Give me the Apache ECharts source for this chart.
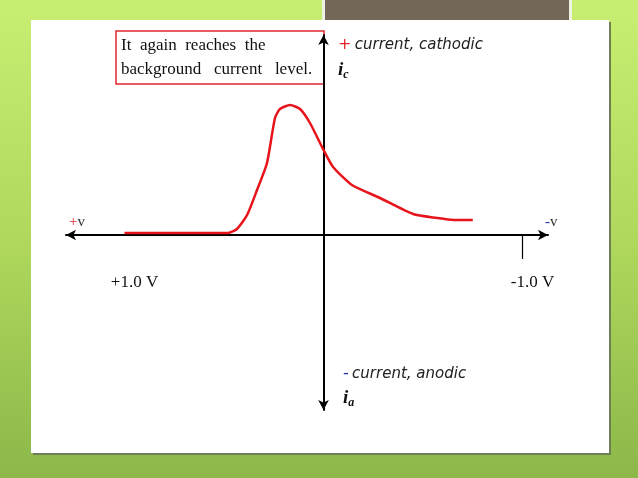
<!DOCTYPE html>
<html><head><meta charset="utf-8">
<script src="https://cdn.jsdelivr.net/npm/echarts@6/dist/echarts.min.js"></script>
<style>html,body{margin:0;padding:0;}#c{width:638px;height:478px;}</style>
</head><body><div id="c"></div>
<script>
// potential (V), plotted with + on the left
const potential = [1.0, 0.48, 0.435, 0.384, 0.334, 0.284, 0.244, 0.219, 0.168, 0.118, 0.068, 0.0, -0.048, -0.143, -0.284, -0.45, -0.57, -0.653, -0.75];
// current (arbitrary units, cathodic positive)
const current = [0.2, 0.2, 0.6, 2.0, 4.5, 7.2, 11.7, 12.6, 13.0, 12.6, 11.2, 8.5, 6.8, 5.0, 3.7, 2.1, 1.7, 1.5, 1.5];
const tickValues = [1, -1];
const tickLabels = ['+1.0 V', '-1.0 V'];

const chart = echarts.init(document.getElementById('c'), null, {renderer: 'canvas'});
const serif = '"Liberation Serif", "Times New Roman", serif';
const sans = '"DejaVu Sans", "Open Sans", sans-serif';
const graphics = [
    {type: 'rect', silent: true, z: -10, shape: {x: 0, y: 0, width: 638, height: 478},
     style: {fill: new echarts.graphic.LinearGradient(0, 0, 0, 1, [
       {offset: 0, color: '#c8ef72'}, {offset: 0.5, color: '#afd85c'}, {offset: 1, color: '#8cb84a'}])}},
    {type: 'rect', silent: true, z: -9, shape: {x: 322, y: 0, width: 250, height: 22}, style: {fill: '#eef3e4'}},
    {type: 'rect', silent: true, z: -8, shape: {x: 325, y: 0, width: 244, height: 20}, style: {fill: '#736757'}},
    {type: 'rect', silent: true, z: -8, shape: {x: 33, y: 22, width: 578, height: 433}, style: {fill: '#6f7f55'}},
    {type: 'rect', silent: true, z: -7, shape: {x: 31, y: 20, width: 578, height: 433}, style: {fill: '#ffffff'}},
    {type: 'rect', z: -5, shape: {x: 116, y: 31, width: 208, height: 53}, style: {fill: '#fff', stroke: '#e0282e', lineWidth: 1.5}},
    {type: 'text', z: 6, left: 121, top: 37, style: {text: 'It  again  reaches  the', font: '17px ' + serif, fill: '#111'}},
    {type: 'text', z: 6, left: 121, top: 61, style: {text: 'background   current   level.', font: '17px ' + serif, fill: '#111'}},
    {type: 'text', z: 6, left: 338, top: 37, style: {text: '{r|+} {t|current, cathodic}', rich: {
      r: {fill: '#e0282e', font: '16px ' + sans}, t: {fill: '#222', font: 'italic 15px ' + sans}}}},
    {type: 'text', z: 6, left: 338, top: 61, style: {text: '{i|i}{s|c}', rich: {
      i: {fill: '#111', font: 'bold italic 19px ' + serif}, s: {fill: '#111', font: 'bold italic 12px ' + serif, verticalAlign: 'bottom', padding: [8, 0, 0, 0]}}}},
    {type: 'text', z: 6, left: 343, top: 366, style: {text: '{r|-} {t|current, anodic}', rich: {
      r: {fill: '#2030a0', font: '16px ' + sans}, t: {fill: '#222', font: 'italic 15px ' + sans}}}},
    {type: 'text', z: 6, left: 343, top: 389, style: {text: '{i|i}{s|a}', rich: {
      i: {fill: '#111', font: 'bold italic 19px ' + serif}, s: {fill: '#111', font: 'bold italic 12px ' + serif, verticalAlign: 'bottom', padding: [8, 0, 0, 0]}}}},
    {type: 'text', z: 6, left: 69, top: 215, style: {text: '{r|+}{v|v}', rich: {
      r: {fill: '#e0282e', font: '15px ' + serif}, v: {fill: '#333', font: '15px ' + serif}}}},
    {type: 'text', z: 6, left: 545, top: 215, style: {text: '{r|-}{v|v}', rich: {
      r: {fill: '#2030a0', font: '15px ' + serif}, v: {fill: '#333', font: '15px ' + serif}}}}
];
chart.setOption({
  animation: false,
  grid: {left: 66, right: 90, top: 35, bottom: 68},
  graphic: graphics,
  xAxis: {
    type: 'value', inverse: true, min: -1.128, max: 1.294,
    splitLine: {show: false},
    axisLine: {onZero: true, lineStyle: {color: '#000', width: 2}, symbol: ['arrow', 'arrow'], symbolSize: [8, 10]},
    axisTick: {show: true, customValues: [-1], length: 24, inside: false, lineStyle: {color: '#000', width: 1.2}},
    axisLabel: {show: false}
  },
  yAxis: {
    type: 'value', min: -17.5, max: 20,
    splitLine: {show: false}, axisTick: {show: false}, axisLabel: {show: false},
    axisLine: {onZero: true, lineStyle: {color: '#000', width: 2}, symbol: ['arrow', 'arrow'], symbolSize: [8, 10]}
  },
  series: [{
    type: 'line', data: potential.map((p, k) => [p, current[k]]),
    showSymbol: false, smooth: 0.2, z: 4,
    lineStyle: {color: '#e8141b', width: 2.5}
  }]
});
// tick labels placed at the axis' own pixel positions
const labelGraphics = tickValues.map((v, k) => {
  const p = chart.convertToPixel({xAxisIndex: 0, yAxisIndex: 0}, [v, 0]);
  return {type: 'text', z: 6, x: p[0] + 10, y: p[1] + 48,
    style: {text: tickLabels[k], font: '17px ' + serif, fill: '#111', align: 'center', verticalAlign: 'middle'}};
});
chart.setOption({graphic: graphics.concat(labelGraphics)});
</script></body></html>
